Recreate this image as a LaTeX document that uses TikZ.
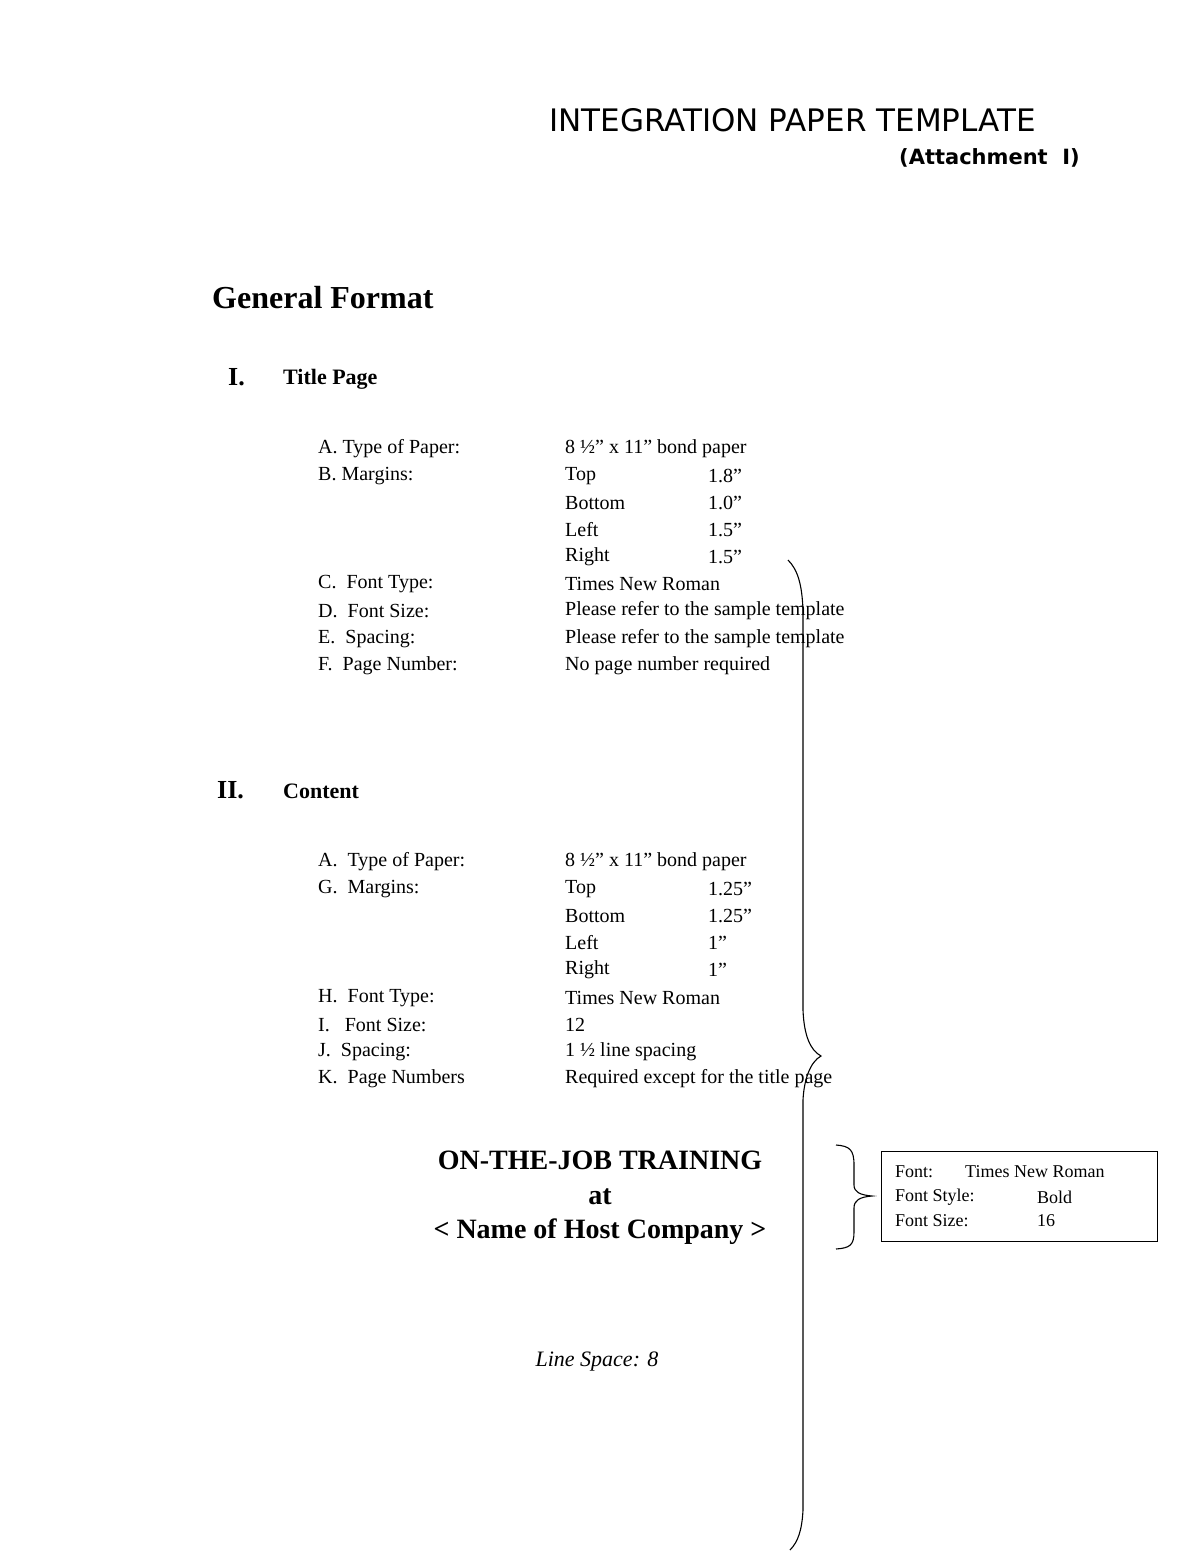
\documentclass[tikz,border=0pt]{standalone}
\usepackage{fontspec}
\setmainfont{Liberation Serif}
\newfontfamily\titlefont{DejaVu Sans}
\begin{document}
\begin{tikzpicture}[x=1pt,y=-1pt,
  txt/.style={anchor=west,inner sep=0pt,font=\fontsize{20}{22}\selectfont},
  hd/.style={anchor=west,inner sep=0pt,font=\bfseries\fontsize{22}{24}\selectfont},
  rn/.style={anchor=west,inner sep=0pt,font=\bfseries\fontsize{26}{28}\selectfont},
  ctr/.style={inner sep=0pt,font=\bfseries\fontsize{28}{30}\selectfont},
  bx/.style={anchor=west,inner sep=0pt,font=\fontsize{18}{20}\selectfont},
  br/.style={line width=1.1pt}]
\useasboundingbox (0,0) rectangle (1200,1553);
\node[anchor=east,inner sep=0pt,font=\titlefont\fontsize{31}{34}\selectfont] (title) at (1036,120) {INTEGRATION PAPER TEMPLATE};
\node[anchor=east,inner sep=0pt,font=\titlefont\bfseries\fontsize{21}{24}\selectfont] (att) at (1080,158) {(Attachment\ \ I)};
\node[anchor=west,inner sep=0pt,font=\bfseries\fontsize{32}{34}\selectfont] (gf) at (212,298) {General Format};
\node[rn] (r1) at (228,377) {I.};
\node[hd] (h1) at (283,379) {Title Page};
\node[rn] (r2) at (217,790) {II.};
\node[hd] (h2) at (283,791) {Content};
% list 1
\foreach \y/\a/\b in {449/{A. Type of Paper:}/{8 ½” x 11” bond paper},476/{B. Margins:}/{Top},584/{C.\ \ Font Type:}/{Times New Roman},611/{D.\ \ Font Size:}/{Please refer to the sample template},639/{E.\ \ Spacing:}/{Please refer to the sample template},666/{F.\ \ Page Number:}/{No page number required}}
  {\node[txt] at (318,\y) {\a}; \node[txt] at (565,\y) {\b};}
\foreach \y/\b/\c in {503/Bottom/1.0”,530/Left/1.5”,557/Right/1.5”}
  {\node[txt] at (565,\y) {\b}; \node[txt] at (708,\y) {\c};}
\node[txt] at (708,476) {1.8”};
% list 2
\foreach \y/\a/\b in {862/{A.\ \ Type of Paper:}/{8 ½” x 11” bond paper},889/{G.\ \ Margins:}/{Top},998/{H.\ \ Font Type:}/{Times New Roman},1025/{I.\ \ \ Font Size:}/{12},1052/{J.\ \ Spacing:}/{1 ½ line spacing},1079/{K.\ \ Page Numbers}/{Required except for the title page}}
  {\node[txt] at (318,\y) {\a}; \node[txt] at (565,\y) {\b};}
\foreach \y/\b/\c in {916/Bottom/1.25”,943/Left/1”,970/Right/1”}
  {\node[txt] at (565,\y) {\b}; \node[txt] at (708,\y) {\c};}
\node[txt] at (708,889) {1.25”};
% center block
\node[ctr] (ojt) at (600,1160) {ON-THE-JOB TRAINING};
\node[ctr] (at) at (600,1197) {at};
\node[ctr] (host) at (600,1232) {< Name of Host Company >};
\node[inner sep=0pt,font=\itshape\fontsize{22}{24}\selectfont] (ls) at (597,1362) {Line Space: 8};
% big brace
\draw[br] (788,560) .. controls (798,570) and (802,585) .. (803,610)
  -- (803,1010) .. controls (804,1035) and (810,1050) .. (821,1056)
  .. controls (810,1062) and (804,1080) .. (803,1100)
  -- (803,1510) .. controls (802,1530) and (798,1542) .. (790,1550);
% small brace
\draw[br] (836,1145) .. controls (850,1146) and (854,1150) .. (854,1165)
  -- (854,1185) .. controls (854,1192) and (860,1195) .. (872,1196)
  .. controls (860,1197) and (854,1200) .. (854,1208)
  -- (854,1232) .. controls (854,1245) and (850,1248) .. (836,1249);
% box
\node[draw,line width=1pt,minimum width=276pt,minimum height=90pt,inner sep=0pt] (box) at (1019,1196) {};
\node[bx] at (895,1172) {Font:};
\node[bx] at (965,1172) {Times New Roman};
\node[bx] at (895,1197) {Font Style:};
\node[bx] at (1037,1197) {Bold};
\node[bx] at (895,1221) {Font Size:};
\node[bx] at (1037,1221) {16};
\end{tikzpicture}
\end{document}
